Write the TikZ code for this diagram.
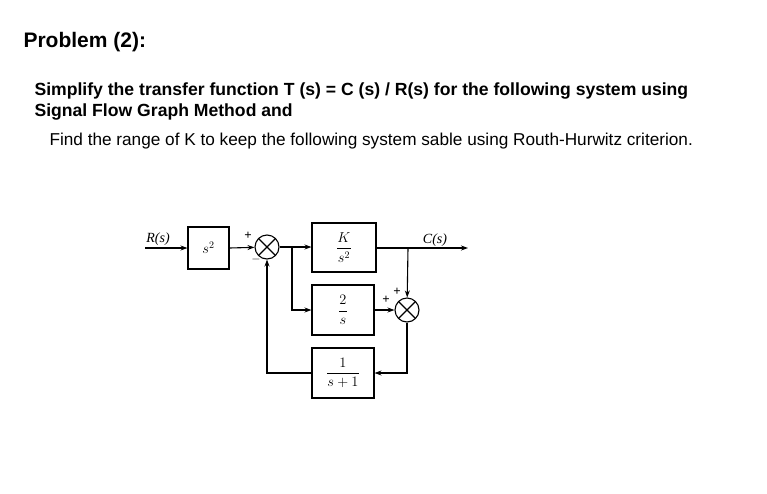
\documentclass[tikz,border=0pt]{standalone}
\usepackage{fontspec}
\usepackage{amsmath}
\setmainfont{Liberation Sans}
\newfontfamily\serif{Liberation Serif}
\usetikzlibrary{arrows.meta}
\begin{document}
\begin{tikzpicture}[x=1pt,y=-1pt,
  blk/.style={draw,line width=1.1pt,inner sep=0pt,font=\fontsize{14}{16}\selectfont},
  sumj/.style={draw,line width=1.1pt,circle,minimum size=24pt,inner sep=0pt,path picture={\draw[line width=1.1pt] (path picture bounding box.north west)--(path picture bounding box.south east) (path picture bounding box.north east)--(path picture bounding box.south west);}},
  ar/.style={line width=1.1pt,-{Stealth[length=7pt,width=5pt]}},
  ln/.style={line width=1.1pt},
  lab/.style={font=\serif\itshape\fontsize{14}{16}\selectfont},
  sg/.style={font=\serif\bfseries\fontsize{13}{13}\selectfont,inner sep=0pt}]
\useasboundingbox (0,0) rectangle (767,493);
\node[anchor=west,font=\bfseries\fontsize{21}{24}\selectfont] (title) at (20,42) {Problem (2):};
\node[anchor=west,font=\bfseries\fontsize{17.6}{20}\selectfont] (l1) at (31,91) {Simplify the transfer function T (s) = C (s) / R(s) for the following system using};
\node[anchor=west,font=\bfseries\fontsize{17.6}{20}\selectfont] (l2) at (31,112) {Signal Flow Graph Method and};
\node[anchor=west,font=\fontsize{17.2}{20}\selectfont] (l3) at (46,141) {Find the range of K to keep the following system sable using Routh-Hurwitz criterion.};

\node[blk,minimum width=41pt,minimum height=42pt] (b1) at (208.5,248) {$s^2$};
\node[sumj] (s1) at (267,247) {};
\node[blk,minimum width=64pt,minimum height=49pt] (bk) at (344,247.5) {$\dfrac{K}{s^2}$};
\node[blk,minimum width=62pt,minimum height=50pt] (b2) at (343,310) {$\dfrac{2}{s}$};
\node[sumj] (s2) at (407,310) {};
\node[blk,minimum width=62pt,minimum height=50pt] (b3) at (343,373) {$\dfrac{1}{s+1}$};
\coordinate (in) at (145,248);
\coordinate (out) at (468,248);
\coordinate (br) at (292,247);
\coordinate (tap) at (408,248);

\draw[ar] (in) -- (b1);
\draw[ar] (b1.east) -- (s1);
\draw[ar] (s1) -- (bk.west|-s1);
\draw[ar] (br) |- (b2.west);
\draw[ln] (bk.east|-out) -- (tap);
\draw[ar] (tap) -- (out);
\draw[ar] (tap) -- (s2);
\draw[ar] (b2) -- (s2);
\draw[ar] (s2) |- (b3.east);
\draw[ar] (b3.west) -| (s1);

\node[lab] (rl) at (158,239) {R(s)};
\node[lab] (cl) at (435,240) {C(s)};
\node[sg] (p1) at (248,236) {+};
\node[sg] (m1) at (256,259) {$-$};
\node[sg] (p2) at (397,292) {+};
\node[sg] (p3) at (386,300) {+};
\end{tikzpicture}
\end{document}
